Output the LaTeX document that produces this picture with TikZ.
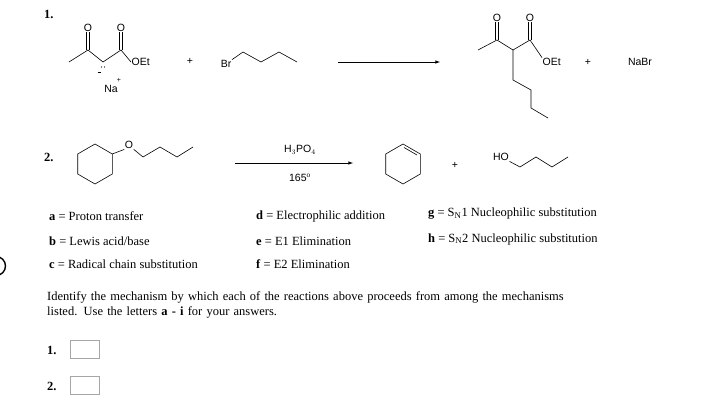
\documentclass[tikz,border=0pt]{standalone}
\usepackage{fontspec}
\setmainfont{Liberation Serif}
\newfontfamily\chemf{Liberation Sans}
\begin{document}
\begin{tikzpicture}[x=1pt,y=-1pt,
  bnd/.style={line width=0.6pt},
  chem/.style={font=\chemf\fontsize{10.5}{12}\selectfont,inner sep=0.5pt},
  txt/.style={font=\fontsize{12.5}{15}\selectfont,anchor=west,inner sep=0pt},
  bnum/.style={txt,font=\bfseries\fontsize{12.5}{15}\selectfont},
  ans/.style={draw=black!35,minimum width=29pt,minimum height=18pt,inner sep=0pt,anchor=west}]
\useasboundingbox[fill=white] (0,0) rectangle (701,417);
\draw[line width=1.4pt] (-4,275.5) arc (90:-90:9.5);
% numbers
\node[bnum] (n1) at (44,14) {1.};
\node[bnum] (n2) at (44,157) {2.};
% reactant 1
\coordinate (m1) at (69,62); \coordinate (k1) at (88,50); \coordinate (c1) at (103,62); \coordinate (e1) at (121,50);
\node[chem] (o1) at (88,28) {O}; \node[chem] (o2) at (121,28) {O};
\node[chem,anchor=west] (oet1) at (131,62) {OEt};
\draw[bnd] (m1)--(k1)--(c1)--(e1)--(oet1.west);
\draw[bnd] ([xshift=-1.5]k1)--([xshift=-1.5]o1.south); \draw[bnd] ([xshift=1.5]k1)--([xshift=1.5]o1.south);
\draw[bnd] ([xshift=-1.5]e1)--([xshift=-1.5]o2.south); \draw[bnd] ([xshift=1.5]e1)--([xshift=1.5]o2.south);
\fill (101.5,67) circle (0.6); \fill (104.5,67) circle (0.6);
\draw[line width=0.6pt] (97.5,72)--(101,72);
\node[chem] (na) at (111,89) {Na}; \node[chem,font=\chemf\fontsize{7}{8}\selectfont] (nap) at (119,80) {+};
\node[chem] (p1) at (190,61) {+};
\node[chem] (br) at (226,64) {Br};
\coordinate (b1) at (243,52); \coordinate (b2) at (261,62); \coordinate (b3) at (279,52); \coordinate (b4) at (297,62);
\draw[bnd] (br.north east)--(b1)--(b2)--(b3)--(b4);
\coordinate (a1s) at (338,62); \coordinate (a1e) at (440,62);
\draw[bnd,-latex] (a1s)--(a1e);
% product 1
\coordinate (pm) at (478,50); \coordinate (pk) at (497,40); \coordinate (pc) at (513,50); \coordinate (pe) at (530,40);
\node[chem] (po1) at (497,18) {O}; \node[chem] (po2) at (530,18) {O};
\node[chem,anchor=west] (poet) at (542,62) {OEt};
\draw[bnd] (pm)--(pk)--(pc)--(pe)--(poet.north west);
\draw[bnd] ([xshift=-1.5]pk)--([xshift=-1.5]po1.south); \draw[bnd] ([xshift=1.5]pk)--([xshift=1.5]po1.south);
\draw[bnd] ([xshift=-1.5]pe)--([xshift=-1.5]po2.south); \draw[bnd] ([xshift=1.5]pe)--([xshift=1.5]po2.south);
\draw[bnd] (pc)--(513,80)--(531,90)--(531,108)--(548,118);
\node[chem] (p2) at (588,62) {+};
\node[chem] (nabr) at (640,62) {NaBr};
% reaction 2
\draw[bnd] (95,144)--(112.3,154)--(112.3,174)--(95,184)--(77.7,174)--(77.7,154)--cycle;
\node[chem] (eo) at (129,145) {O};
\draw[bnd] (112.3,154)--(eo.south west); \draw[bnd] (eo.south east)--(143,157)--(160,147)--(177,157)--(193,147);
\coordinate (a2s) at (235,163); \coordinate (a2e) at (353,163);
\draw[bnd,-latex] (a2s)--(a2e);
\node[chem] (h3) at (300,150) {H$_3$PO$_4$};
\node[chem] (t) at (300,178) {165$^{\mathrm o}$};
\draw[bnd] (403,144)--(420.3,154)--(420.3,174)--(403,184)--(385.7,174)--(385.7,154)--cycle;
\draw[bnd] (404,147.5)--(417,155);
\node[chem] (p3) at (455,165) {+};
\node[chem] (ho) at (501,157) {HO};
\draw[bnd] (ho.south east)--(520,167)--(536,157)--(552,167)--(568,157);
% options
\node[txt] (la) at (49,216) {\textbf{a} = Proton transfer};
\node[txt] (lb) at (49,241) {\textbf{b} = Lewis acid/base};
\node[txt] (lc) at (49,264) {\textbf{c} = Radical chain substitution};
\node[txt] (ld) at (256,216) {\textbf{d} = Electrophilic addition};
\node[txt] (le) at (256,241) {\textbf{e} = E1 Elimination};
\node[txt] (lf) at (256,264) {\textbf{f} = E2 Elimination};
\node[txt] (lg) at (428,214) {\textbf{g} = S$_{\mathrm N}$1 Nucleophilic substitution};
\node[txt] (lh) at (428,239) {\textbf{h} = S$_{\mathrm N}$2 Nucleophilic substitution};
\node[txt,text width=610pt,align=left,anchor=north west] (q) at (47,291) {Identify the mechanism by which each of the reactions above proceeds from among the mechanisms\\ listed. Use the letters \textbf{a - i} for your answers.};
\node[bnum] (q1) at (47,350) {1.};
\node[ans] (b1box) at (70,349) {};
\node[bnum] (q2) at (47,386) {2.};
\node[ans] (b2box) at (70,385) {};
\end{tikzpicture}
\end{document}
